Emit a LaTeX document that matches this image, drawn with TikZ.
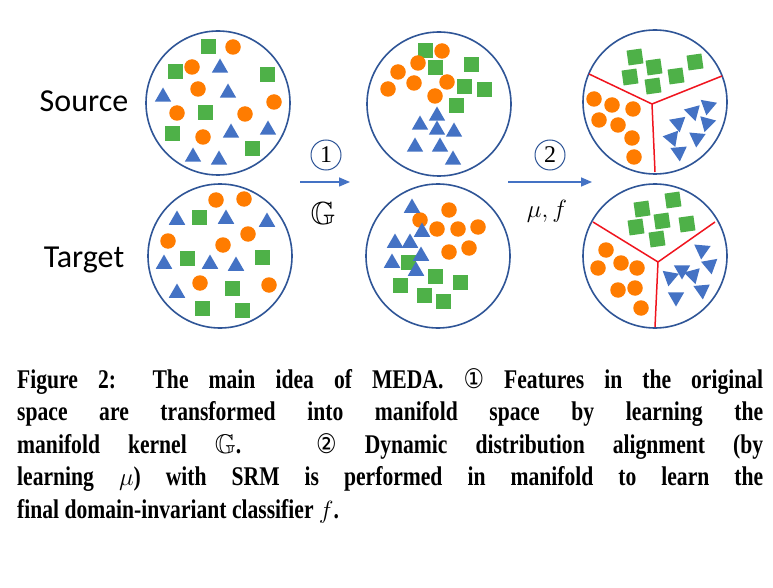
\documentclass[tikz,border=0pt]{standalone}
\usepackage{amssymb}
\usepackage{fontspec}
\setmainfont{Liberation Serif}
\newfontfamily\capfont{Liberation Serif}[FakeStretch=0.80]
\newfontfamily\lblfont{Carlito}
\newfontfamily\symfont{DejaVu Sans}[FakeStretch=0.85]
\usetikzlibrary{shapes.geometric,arrows.meta}
\definecolor{cblue}{RGB}{47,85,151}
\definecolor{tblue}{RGB}{68,114,196}
\definecolor{sgreen}{RGB}{78,177,72}
\definecolor{corange}{RGB}{255,124,0}
\definecolor{sepred}{RGB}{240,20,30}
\tikzset{
 big/.style={circle,draw=cblue,line width=1.6pt,minimum size=144pt,inner sep=0pt},
 sq/.style={rectangle,fill=sgreen,minimum size=15pt,inner sep=0pt},
 ci/.style={circle,fill=corange,minimum size=15.5pt,inner sep=0pt},
 tr/.style={regular polygon,regular polygon sides=3,fill=tblue,minimum size=19pt,inner sep=0pt},
 sep/.style={draw=sepred,line width=1.5pt},
 arr/.style={draw=tblue,line width=1.5pt,-{Triangle[length=11pt,width=9pt]}},
 num/.style={circle,draw=cblue,line width=1pt,minimum size=30pt,inner sep=0pt,font=\fontsize{24}{24}\selectfont},
 lbl/.style={font=\lblfont\fontsize{32}{32}\selectfont}
}
\newcommand\Sq[3][0]{\node[sq,rotate=#1] at (#2,#3) {};}
\newcommand\Ci[2]{\node[ci] at (#1,#2) {};}
\newcommand\Tr[3][0]{\node[tr,rotate=#1] at (#2,#3) {};}
\begin{document}
\begin{tikzpicture}[x=1pt,y=-1pt]
\useasboundingbox[fill=white] (0,0) rectangle (773,588);
\node[big] (s1) at (218,103) {};
\node[big] (t1) at (220,256) {};
\node[big] (s2) at (439,104) {};
\node[big] (t2) at (438,256) {};
\node[big] (s3) at (655,102) {};
\node[big] (t3) at (655,256) {};
\node[lbl] (src) at (84,101) {Source};
\node[lbl] (tgt) at (84,260) {Target};
% source 1
\Sq{208}{47}\Sq{175}{72}\Sq{267}{75}\Sq{205}{113}\Sq{172}{134}\Sq{252}{149}
\Ci{233}{47}\Ci{192}{67}\Ci{198}{89}\Ci{274}{102}\Ci{177}{113}\Ci{245}{114}\Ci{203}{137}
\Tr{220}{68}\Tr{163}{97}\Tr{228}{93}\Tr{231}{133}\Tr{268}{130}\Tr{193}{157}\Tr{219}{160}
% target 1
\Ci{216}{200}\Ci{244}{199}\Ci{248}{234}\Ci{168}{241}\Ci{223}{245}\Ci{200}{283}\Ci{269}{285}
\Sq{199}{217}\Sq{187}{258}\Sq{262}{257}\Sq{232}{288}\Sq{202}{308}\Sq{242}{310}
\Tr{177}{220}\Tr{226}{219}\Tr{267}{222}\Tr{164}{264}\Tr{210}{264}\Tr{236}{266}\Tr{177}{293}
% source 2
\Sq{425}{51}\Sq{435}{68}\Sq{471}{65}\Sq{464}{87}\Sq{484}{90}\Sq{456}{106}
\Ci{442}{51}\Ci{418}{63}\Ci{398}{72}\Ci{414}{83}\Ci{447}{82}\Ci{388}{89}\Ci{435}{96}
\Tr{437}{116}\Tr{420}{125}\Tr{437}{130}\Tr{454}{132}\Tr{415}{147}\Tr{440}{147}\Tr{453}{160}
% target 2
\Ci{449}{210}\Ci{420}{220}\Ci{437}{229}\Ci{458}{229}\Ci{478}{227}\Ci{469}{248}\Ci{449}{252}
\Sq{408}{262}\Sq{435}{276}\Sq{460}{282}\Sq{400}{285}\Sq{424}{295}\Sq{443}{301}
\Tr{412}{208}\Tr{422}{232}\Tr{395}{243}\Tr{410}{243}\Tr{421}{256}\Tr{392}{263}\Tr{416}{271}
% source 3
\coordinate (c3) at (652,104);
\coordinate (a3) at (589,74);\coordinate (b3) at (722,76);\coordinate (d3) at (655,172);
\draw[sep] (a3) -- (c3) -- (b3) (c3) -- (d3);
\Sq[8]{635}{57}\Sq[8]{654}{67}\Sq[8]{695}{62}\Sq[8]{630}{77}\Sq[8]{653}{86}\Sq[8]{676}{76}
\Ci{594}{99}\Ci{612}{105}\Ci{633}{109}\Ci{599}{120}\Ci{618}{125}\Ci{632}{138}\Ci{634}{157}
\Tr[170]{708}{106}\Tr[195]{693}{112}\Tr[165]{707}{123}\Tr[190]{678}{123}\Tr[200]{672}{138}\Tr[175]{697}{138}\Tr[185]{679}{152}
% target 3
\coordinate (c4) at (658,262);
\coordinate (a4) at (593,222);\coordinate (b4) at (715,222);\coordinate (d4) at (655,327);
\draw[sep] (a4) -- (c4) -- (b4) (c4) -- (d4);
\Sq[8]{673}{200}\Sq[8]{642}{209}\Sq[8]{662}{221}\Sq[8]{687}{224}\Sq[8]{636}{227}\Sq[8]{657}{239}
\Ci{606}{250}\Ci{621}{263}\Ci{598}{268}\Ci{637}{268}\Ci{618}{290}\Ci{635}{288}\Ci{641}{308}
\Tr[175]{702}{250}\Tr[190]{710}{265}\Tr[180]{682}{270}\Tr[195]{693}{275}\Tr[170]{670}{277}\Tr[185]{702}{290}\Tr[180]{676}{297}
% arrows
\coordinate (p1) at (300,182);\coordinate (q1) at (350,182);
\coordinate (p2) at (508,182);\coordinate (q2) at (592,182);
\draw[arr] (p1) -- (q1);
\draw[arr] (p2) -- (q2);
\node[num] (n1) at (326,155) {1};
\node[num] (n2) at (550,155) {2};
\node[font=\fontsize{32}{32}\selectfont] (g) at (323,213) {$\mathbb{G}$};
\node[font=\fontsize{36}{36}\selectfont] (mf) at (547,211) {$\mu,f$};
% caption
\node[anchor=north west,inner sep=0pt,text width=746pt,align=justify,
 font=\capfont\bfseries\fontsize{27}{32.5}\selectfont] (cap) at (17,368)
{Figure 2: The main idea of MEDA. {\symfont\mdseries ①} Features in the original\linebreak space are transformed into manifold space by learning the\linebreak manifold kernel $\mathbb{G}$. {\symfont\mdseries ②} Dynamic distribution alignment (by\linebreak learning $\mu$) with SRM is performed in manifold to learn the\linebreak final domain-invariant classifier $f$.};
\end{tikzpicture}
\end{document}
